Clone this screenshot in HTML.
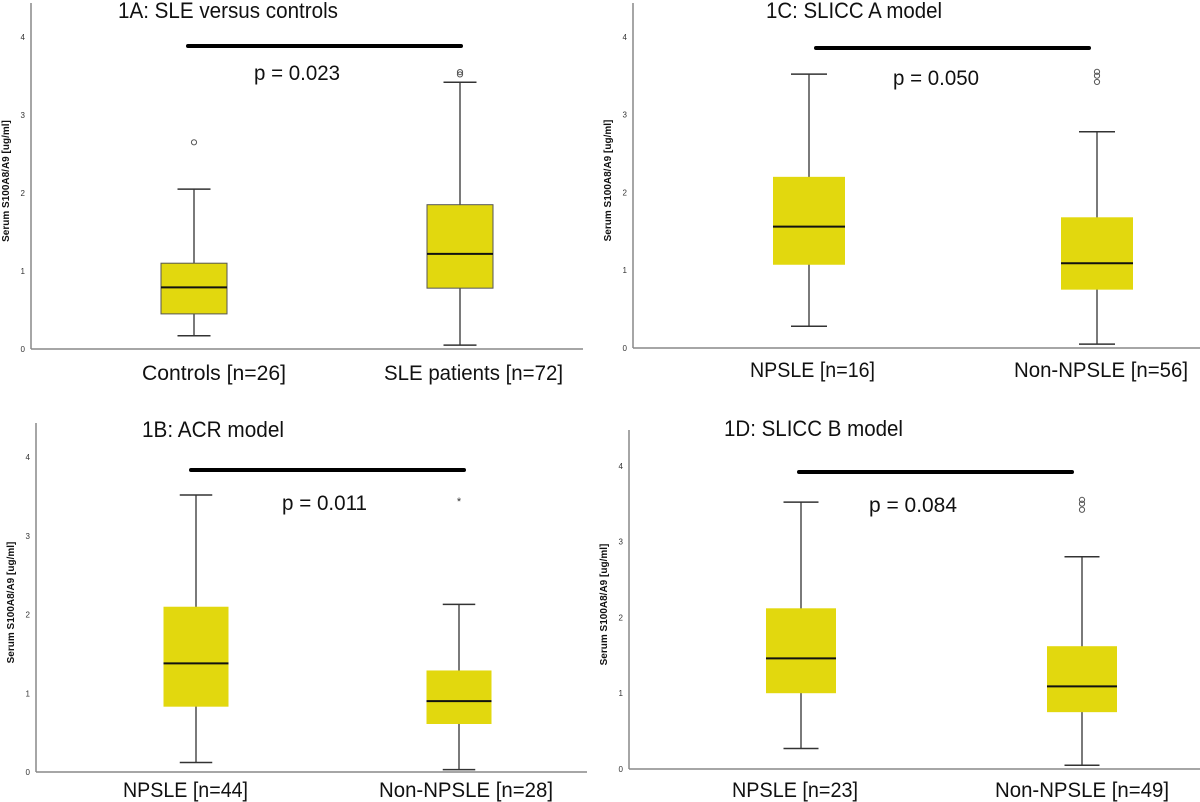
<!DOCTYPE html>
<html><head><meta charset="utf-8"><style>
body{margin:0;background:#fff;}
svg{display:block;font-family:"Liberation Sans",sans-serif;}
</style></head><body>
<svg id="c" width="1200" height="802" xmlns="http://www.w3.org/2000/svg"></svg>
<script>
// ---- data (values in ug/ml) ----
const titles = ["1A: SLE versus controls","1C: SLICC A model","1B: ACR model","1D: SLICC B model"];
const pValues = ["p = 0.023","p = 0.050","p = 0.011","p = 0.084"];
const categoriesA = ["Controls [n=26]","SLE patients [n=72]"];
const categoriesC = ["NPSLE [n=16]","Non-NPSLE [n=56]"];
const categoriesB = ["NPSLE [n=44]","Non-NPSLE [n=28]"];
const categoriesD = ["NPSLE [n=23]","Non-NPSLE [n=49]"];
// [whiskerLow, Q1, median, Q3, whiskerHigh]
const statsA = [[0.17,0.45,0.79,1.10,2.05],[0.05,0.78,1.22,1.85,3.42]];
const statsC = [[0.28,1.07,1.56,2.20,3.52],[0.05,0.75,1.09,1.68,2.78]];
const statsB = [[0.12,0.83,1.38,2.10,3.52],[0.03,0.61,0.90,1.29,2.13]];
const statsD = [[0.27,1.00,1.46,2.12,3.52],[0.05,0.75,1.09,1.62,2.80]];
const outliersA = [[2.65],[3.52,3.55]];
const outliersC = [[],[3.42,3.50,3.55]];
const outliersB = [[],[3.47]];
const outliersD = [[],[3.42,3.50,3.55]];
const yTicks = [0,1,2,3,4];

const NS="http://www.w3.org/2000/svg";
const svg=document.getElementById('c');
function mk(tag,attrs,parent,text){const e=document.createElementNS(NS,tag);for(const k in attrs)e.setAttribute(k,attrs[k]);if(text!==undefined)e.textContent=text;(parent||svg).appendChild(e);return e;}

const panels=[
 {id:'a',cats:categoriesA,stats:statsA,out:outliersA,ax:31,top:3,y0:349,unit:78,xEnd:583,cx:[194,460],bw:66,border:true,bar:[188,461,46],p:[254,340,80],title:[118,338,18],lab:[[142,286],[384,563]],labY:380,star:false},
 {id:'c',cats:categoriesC,stats:statsC,out:outliersC,ax:633,top:3,y0:348,unit:77.8,xEnd:1200,cx:[809,1097],bw:72,border:false,bar:[816,1089,48],p:[893,979,85],title:[766,942,18],lab:[[750,875],[1014,1188]],labY:377,star:false},
 {id:'b',cats:categoriesB,stats:statsB,out:outliersB,ax:36,top:423,y0:772,unit:78.7,xEnd:587,cx:[196,459],bw:65,border:false,bar:[191,464,470],p:[282,367,510],title:[142,284,437],lab:[[123,248],[379,553]],labY:797,star:true},
 {id:'d',cats:categoriesD,stats:statsD,out:outliersD,ax:629,top:430,y0:769,unit:75.8,xEnd:1200,cx:[801,1082],bw:70,border:false,bar:[799,1072,472],p:[869,957,512],title:[724,903,436],lab:[[732,858],[995,1169]],labY:797,star:false}
];
panels.forEach((P,i)=>{
 const g=mk('g',{});
 
 
 const y=v=>P.y0-v*P.unit;
 const t=mk('text',{x:P.title[0],y:P.title[2],'font-size':22,fill:'#111',textLength:P.title[1]-P.title[0],lengthAdjust:'spacingAndGlyphs'},g,titles[i]);
 
 
 const ya=mk('line',{x1:P.ax,y1:P.top,x2:P.ax,y2:P.y0,stroke:'#888','stroke-width':1.5},g);
 
 
 const xa=mk('line',{x1:P.ax,y1:P.y0,x2:P.xEnd,y2:P.y0,stroke:'#888','stroke-width':1.5},g);
 
 
 yTicks.forEach(v=>{
  const tl=mk('text',{x:P.ax-6,y:y(v)+3,'font-size':8,'text-anchor':'end',fill:'#333'},g,String(v));
  
  
 });
 const yt=mk('text',{x:0,y:0,'font-size':10,'font-weight':'bold','text-anchor':'middle',fill:'#111',transform:`translate(${P.ax-22},${(P.top+P.y0)/2+5}) rotate(-90)`},g,'Serum S100A8/A9 [ug/ml]');
 
 
 P.stats.forEach((s,k)=>{
  const cx=P.cx[k],hw=P.bw/2;
  const bg=mk('g',{},g);
  
  
  mk('line',{x1:cx,y1:y(s[0]),x2:cx,y2:y(s[4]),stroke:'#333','stroke-width':1.3},bg);
  mk('line',{x1:cx-hw/2,y1:y(s[0]),x2:cx+hw/2,y2:y(s[0]),stroke:'#333','stroke-width':1.5},bg);
  mk('line',{x1:cx-hw/2,y1:y(s[4]),x2:cx+hw/2,y2:y(s[4]),stroke:'#333','stroke-width':1.5},bg);
  mk('rect',{x:cx-hw,y:y(s[3]),width:P.bw,height:y(s[1])-y(s[3]),fill:'#e2d80e',stroke:P.border?'#555':'none','stroke-width':1},bg);
  mk('line',{x1:cx-hw,y1:y(s[2]),x2:cx+hw,y2:y(s[2]),stroke:'#111','stroke-width':2},bg);
  P.out[k].forEach(o=>{
   if(P.star){const st=mk('text',{x:cx,y:y(o)+6,'font-size':11,'text-anchor':'middle',fill:'#333'},bg,'*');}
   else{const c=mk('circle',{cx:cx,cy:y(o),r:2.6,fill:'none',stroke:'#555','stroke-width':1},bg);}
  });
  const L=P.lab[k];
  const cl=mk('text',{x:L[0],y:P.labY,'font-size':21,fill:'#111',textLength:L[1]-L[0],lengthAdjust:'spacingAndGlyphs'},g,P.cats[k]);
  
  
 });
 const sb=mk('line',{x1:P.bar[0],y1:P.bar[2],x2:P.bar[1],y2:P.bar[2],stroke:'#000','stroke-width':4,'stroke-linecap':'round'},g);
 
 
 const pt=mk('text',{x:P.p[0],y:P.p[2],'font-size':21,fill:'#111',textLength:P.p[1]-P.p[0],lengthAdjust:'spacingAndGlyphs'},g,pValues[i]);
 
 
});
</script>
</body></html>
